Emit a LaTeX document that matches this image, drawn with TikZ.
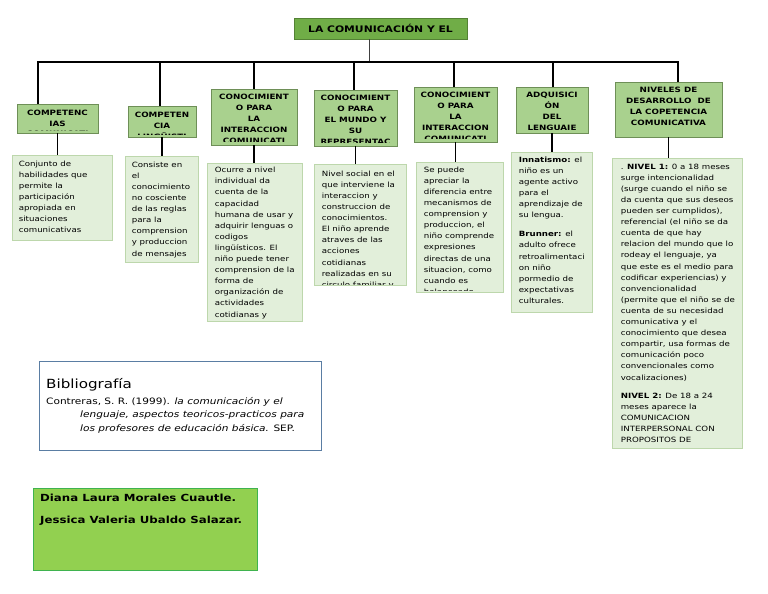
\documentclass[tikz,border=0pt]{standalone}
\usepackage{fontspec}
\setmainfont{DejaVu Sans}[FakeStretch=1.2]
\usepackage{tikz}
\usetikzlibrary{shadows}
\definecolor{verdetit}{HTML}{70AD47}
\definecolor{bordetit}{HTML}{548235}
\definecolor{verdetema}{HTML}{A9D18E}
\definecolor{bordetema}{HTML}{6E8F57}
\definecolor{verdenota}{HTML}{E2EFDA}
\definecolor{bordenota}{HTML}{BDD7AC}
\definecolor{azulbib}{HTML}{5A7DA3}
\definecolor{verdenom}{HTML}{92D050}
\definecolor{bordenom}{HTML}{3FB34F}
\newcommand\recorte[1][2pt]{\clip ([yshift=#1]path picture bounding box.south west) rectangle (path picture bounding box.north east);}

\begin{document}
\begin{tikzpicture}[x=1pt,y=-1pt,
  titulo/.style={draw=bordetit,fill=verdetit,line width=0.8pt,inner sep=0,
    font=\fontsize{9}{11}\selectfont\bfseries},
  tema/.style={draw=bordetema,fill=verdetema,line width=0.9pt,inner sep=0,
    drop shadow={shadow xshift=1.2pt,shadow yshift=-1.2pt,opacity=.35}},
  tematxt/.style={anchor=north,inner sep=0,align=center,draw=none,fill=none,
    minimum width=0pt,minimum height=0pt,
    font=\fontsize{7.3}{10.8}\selectfont\bfseries},
  nota/.style={draw=bordenota,fill=verdenota,line width=0.8pt,inner sep=0,anchor=north west},
  notatxt/.style={anchor=north west,inner sep=0,align=left,draw=none,fill=none,
    minimum width=0pt,minimum height=0pt,
    font=\fontsize{7.2}{11.1}\selectfont},
  rama/.style={line width=1.6pt},
  tallo/.style={line width=0.7pt,black!75}]
  \useasboundingbox[fill=white] (0,0) rectangle (768,594);

  % titulo y tronco
  \node[titulo,minimum width=173,minimum height=21] (titulo) at (380.5,28.5) {LA COMUNICACIÓN Y EL};
  \coordinate (tronco) at (369,62);
  \draw[tallo] (titulo.south -| tronco) -- (tronco);

  % temas
  \node[tema,minimum width=81,minimum height=29,path picture={\recorte[3pt]
    \node[tematxt] (t1x) at ([yshift=-5.5pt]path picture bounding box.north) {COMPETENC\\IAS\\COMUNICATI};}]
    (t1) at (57.5,118.5) {};
  \node[tema,minimum width=68,minimum height=31,path picture={\recorte[3pt]
    \node[tematxt] (t2x) at ([yshift=-6pt]path picture bounding box.north) {COMPETEN\\CIA\\LINGÜISTI};}]
    (t2) at (162,121.5) {};
  \node[tema,minimum width=86,minimum height=56,path picture={\recorte[4pt]
    \node[tematxt] (t3x) at ([yshift=-5pt]path picture bounding box.north) {CONOCIMIENT\\O PARA\\LA\\INTERACCION\\COMUNICATI};}]
    (t3) at (254,117) {};
  \node[tema,minimum width=83,minimum height=56,path picture={\recorte[3.5pt]
    \node[tematxt] (t4x) at ([yshift=-5pt]path picture bounding box.north) {CONOCIMIENT\\O PARA\\EL MUNDO Y\\SU\\REPRESENTAC};}]
    (t4) at (355.5,118) {};
  \node[tema,minimum width=83,minimum height=55,path picture={\recorte[4pt]
    \node[tematxt] (t5x) at ([yshift=-5pt]path picture bounding box.north) {CONOCIMIENT\\O PARA\\LA\\INTERACCION\\COMUNICATI};}]
    (t5) at (455.5,114.5) {};
  \node[tema,minimum width=72,minimum height=46,path picture={\recorte[3.5pt]
    \node[tematxt] (t6x) at ([yshift=-5pt]path picture bounding box.north) {ADQUISICI\\ÓN\\DEL\\LENGUAJE};}]
    (t6) at (552,110) {};
  \node[tema,minimum width=107,minimum height=55,path picture={
    \node[tematxt] (t7x) at ([yshift=-5pt]path picture bounding box.north) {NIVELES DE\\DESARROLLO~ DE\\LA COPETENCIA\\COMUNICATIVA};}]
    (t7) at (668.5,109.5) {};

  % notas
  \node[nota,minimum width=100,minimum height=85,path picture={\recorte
    \node[notatxt] (n1x) at ([xshift=6pt,yshift=-5pt]path picture bounding box.north west)
      {Conjunto de\\habilidades que\\permite la\\participación\\apropiada en\\situaciones\\comunicativas};}]
    (n1) at (12,155) {};
  \node[nota,minimum width=73,minimum height=106,path picture={\recorte
    \node[notatxt] (n2x) at ([xshift=6pt,yshift=-5pt]path picture bounding box.north west)
      {Consiste en\\el\\conocimiento\\no cosciente\\de las reglas\\para la\\comprension\\y produccion\\de mensajes};}]
    (n2) at (125,156) {};
  \node[nota,minimum width=95,minimum height=158,path picture={\recorte
    \node[notatxt] (n3x) at ([xshift=7pt,yshift=-3.5pt]path picture bounding box.north west)
      {Ocurre a nivel\\individual da\\cuenta de la\\capacidad\\humana de usar y\\adquirir lenguas o\\codigos\\lingüísticos. El\\niño puede tener\\comprension de la\\forma de\\organización de\\actividades\\cotidianas y};}]
    (n3) at (207,163) {};
  \node[nota,minimum width=92,minimum height=121,path picture={\recorte[1pt]
    \node[notatxt] (n4x) at ([xshift=7pt,yshift=-6pt]path picture bounding box.north west)
      {Nivel social en el\\que interviene la\\interaccion y\\construccion de\\conocimientos.\\El niño aprende\\atraves de las\\acciones\\cotidianas\\realizadas en su\\circulo familiar y};}]
    (n4) at (314,164) {};
  \node[nota,minimum width=87,minimum height=130,path picture={\recorte
    \node[notatxt] (n5x) at ([xshift=7pt,yshift=-4pt]path picture bounding box.north west)
      {Se puede\\apreciar la\\diferencia entre\\mecanismos de\\comprension y\\produccion, el\\niño comprende\\expresiones\\directas de una\\situacion, como\\cuando es\\balanceado};}]
    (n5) at (416,162) {};
  \node[nota,minimum width=81,minimum height=160,path picture={
    \node[notatxt] (n6x) at ([xshift=7pt,yshift=-4pt]path picture bounding box.north west)
      {\textbf{Innatismo:} el\\niño es un\\agente activo\\para el\\aprendizaje de\\su lengua.\\[8pt]\textbf{Brunner:} el\\adulto ofrece\\retroalimentaci\\on niño\\pormedio de\\expectativas\\culturales.};}]
    (n6) at (511,152) {};
  \node[nota,minimum width=130,minimum height=290,path picture={\recorte
    \node[notatxt] (n7x) at ([xshift=8pt,yshift=-5pt]path picture bounding box.north west)
      {. \textbf{NIVEL 1:} 0 a 18 meses\\surge intencionalidad\\(surge cuando el niño se\\da cuenta que sus deseos\\pueden ser cumplidos),\\referencial (el niño se da\\cuenta de que hay\\relacion del mundo que lo\\rodeay el lenguaje, ya\\que este es el medio para\\codificar experiencias) y\\convencionalidad\\(permite que el niño se de\\cuenta de su necesidad\\comunicativa y el\\conocimiento que desea\\compartir, usa formas de\\comunicación poco\\convencionales como\\vocalizaciones)\\[7pt]\textbf{NIVEL 2:} De 18 a 24\\meses aparece la\\COMUNICACION\\INTERPERSONAL CON\\PROPOSITOS DE};}]
    (n7) at (612,158) {};

  % conectores
  \foreach \i/\x in {1/38,2/160,3/254,4/354,5/454,6/553,7/678}{
    \coordinate (r\i) at (\x,62);
    \draw[rama] (r\i) -- (r\i |- t\i.north);
    \draw[rama] (t\i.south) -- (t\i.south |- n\i.north);
  }
  \draw[rama] ([xshift=-0.8pt]r1) -- ([xshift=0.8pt]r7);

  % bibliografia
  \node[draw=azulbib,fill=white,line width=0.9pt,inner sep=0,anchor=north west,
    minimum width=282,minimum height=89] (bib) at (39,361) {};
  \node[anchor=north west,inner sep=0,align=left,font=\fontsize{8.8}{13.8}\selectfont]
    (bibtxt) at ([xshift=7pt,yshift=-17pt]bib.north west)
    {{\fontsize{12.6}{14}\selectfont Bibliografía}\\[2pt]
     Contreras, S. R. (1999). \textit{la comunicación y el}\\
     \hspace*{34pt}\textit{lenguaje, aspectos teoricos-practicos para}\\
     \hspace*{34pt}\textit{los profesores de educación básica.} SEP.};

  % autoras
  \node[draw=bordenom,fill=verdenom,line width=1pt,inner sep=0,anchor=north west,
    minimum width=224,minimum height=82] (autoras) at (33,488) {};
  \node[anchor=north west,inner sep=0,align=left,font=\fontsize{9.8}{22}\selectfont\bfseries]
    (autorastxt) at ([xshift=7pt,yshift=-5.5pt]autoras.north west)
    {Diana Laura Morales Cuautle.\\Jessica Valeria Ubaldo Salazar.};
\end{tikzpicture}
\end{document}
